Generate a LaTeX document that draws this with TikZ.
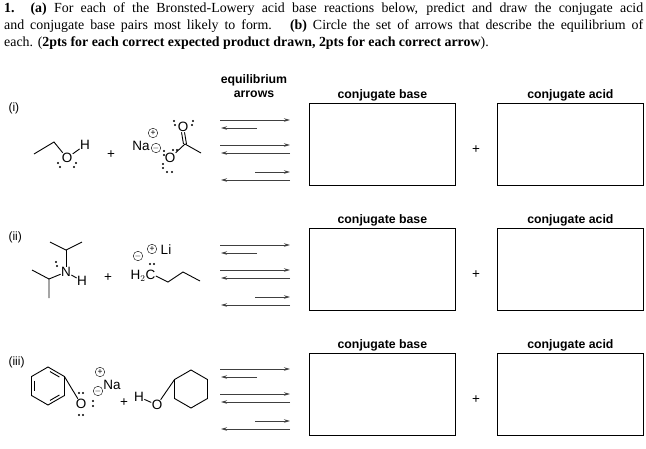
\documentclass[tikz,border=0pt]{standalone}
\usepackage{fontspec}
\setmainfont{Liberation Serif}
\newfontfamily\sans{Liberation Sans}
\usetikzlibrary{arrows.meta,calc}
\begin{document}
\begin{tikzpicture}[x=1pt,y=-1pt,
 box/.style={draw,line width=0.8pt},
 hd/.style={font=\sans\bfseries\fontsize{12.3}{13.5}\selectfont,align=center},
 atm/.style={font=\sans\fontsize{13.5}{14}\selectfont,inner sep=0.3pt},
 lbl/.style={font=\sans\fontsize{12}{12}\selectfont,anchor=west},
 eq/.style={line width=0.9pt,-{Stealth[length=6pt,width=3.5pt]},draw=black!75},
 bd/.style={line width=0.9pt},
 chg/.style={draw,circle,inner sep=0pt,minimum size=9.5pt,font=\sans\fontsize{8.5}{8.5}\selectfont},
 dt/.style={circle,fill,inner sep=0pt,minimum size=2.2pt}]
\useasboundingbox (0,0) rectangle (646,448);
\node[anchor=north west,text width=639pt,inner sep=0pt,align=justify,font=\fontsize{13.9}{17}\selectfont] (txt) at (4,3)
{\textbf{1. (a)} For each of the Bronsted-Lowery acid base reactions below, predict and draw the conjugate acid\linebreak and conjugate base pairs most likely to form. \ \textbf{(b)} Circle the set of arrows that describe the equilibrium of\linebreak each. (\textbf{2pts for each correct expected product drawn, 2pts for each correct arrow}).};
\node[hd] (eqh) at (254,86) {equilibrium\\arrows};
\foreach \y/\r in {103/i,228/ii,353/iii}{
 \node[box,minimum width=146pt,minimum height=82pt,anchor=north west] (cb\r) at (309,\y) {};
 \node[box,minimum width=146pt,minimum height=82pt,anchor=north west] (ca\r) at (497,\y) {};
 \node[hd,anchor=south,inner sep=2pt] (cbl\r) at (cb\r.north) {conjugate base};
 \node[hd,anchor=south,inner sep=2pt] (cal\r) at (ca\r.north) {conjugate acid};
 \node[atm] (pl\r) at (476,\y+47) {+};
}
\node[lbl] (li) at (5,108) {(i)};
\node[lbl] (lii) at (5,237) {(ii)};
\node[lbl] (liii) at (5,362) {(iii)};
% arrows
\foreach \y in {120,245,369}{
 \coordinate (a1\y) at (220,\y); \coordinate (b1\y) at (290,\y);
 \draw[eq] (a1\y) -- (b1\y);
 \coordinate (a2\y) at (257,\y+8); \coordinate (b2\y) at (221,\y+8);
 \draw[eq] (a2\y) -- (b2\y);
 \coordinate (a3\y) at (220,\y+25); \coordinate (b3\y) at (290,\y+25);
 \draw[eq] (a3\y) -- (b3\y);
 \coordinate (a4\y) at (290,\y+33); \coordinate (b4\y) at (221,\y+33);
 \draw[eq] (a4\y) -- (b4\y);
 \coordinate (a5\y) at (255,\y+52); \coordinate (b5\y) at (290,\y+52);
 \draw[eq] (a5\y) -- (b5\y);
 \coordinate (a6\y) at (290,\y+60); \coordinate (b6\y) at (221,\y+60);
 \draw[eq] (a6\y) -- (b6\y);
}
% (i) ethanol
\node[atm] (o1) at (67,158) {O};
\node[atm] (h1) at (85,145) {H};
\coordinate (c1) at (34,154); \coordinate (c2) at (54,142);
\draw[bd] (c1) -- (c2) -- (o1);
\draw[bd] (o1) -- (h1);
\node[dt] at (58,163) {}; \node[dt] at (60,167) {};
\node[dt] at (76,163) {}; \node[dt] at (74,167) {};
\node[atm] (p1) at (111,155) {+};
\node[atm] (na1) at (141,146) {Na};
\node[chg] (q1) at (153,133) {+};
\node[chg] (q2) at (156,148) {$-$};
\node[atm] (o2) at (170,158) {O};
\node[atm] (o3) at (183,127) {O};
\coordinate (cc) at (185,144); \coordinate (cm) at (201,153);
\draw[bd] (o2) -- (cc) -- (cm);
\draw[bd] ([xshift=-1.5]o3.south) -- ([xshift=-1.5]cc);
\draw[bd] ([xshift=1.5]o3.south) -- ([xshift=1.5]cc);
\node[dt] at (164,151) {}; \node[dt] at (164,155) {};
\node[dt] at (163,164) {}; \node[dt] at (163,168) {};
\node[dt] at (167,172) {}; \node[dt] at (172,172) {};
\node[dt] at (173,150) {}; \node[dt] at (177,150) {};
\node[dt] at (174,121) {}; \node[dt] at (175,125) {};
\node[dt] at (193,121) {}; \node[dt] at (192,125) {};
% (ii) LDA
\node[atm] (n1) at (66,272) {N};
\node[atm] (h2) at (82,281) {H};
\coordinate (u0) at (66,250); \coordinate (u1) at (50,242); \coordinate (u2) at (82,242);
\coordinate (l0) at (49,279); \coordinate (l1) at (32,270); \coordinate (l2) at (49,298);
\draw[bd] (n1) -- (u0); \draw[bd] (u1) -- (u0) -- (u2);
\draw[bd] (n1) -- (l0); \draw[bd] (l1) -- (l0) -- (l2);
\draw[bd] (n1) -- (h2);
\node[dt] at (56,262) {}; \node[dt] at (57,266) {};
\node[atm] (p2) at (108,278) {+};
\node[atm] (h2c) at (143,276) {H$_2$C};
\coordinate (k1) at (168,282); \coordinate (k2) at (183,272); \coordinate (k3) at (200,281);
\draw[bd] (h2c.east) -- (k1) -- (k2) -- (k3);
\node[dt] at (150,264) {}; \node[dt] at (154,264) {};
\node[chg] (q3) at (138,256) {$-$};
\node[chg] (q4) at (152,249) {+};
\node[atm] (li1) at (166,250) {Li};
% (iii) phenoxide
\coordinate (k) at (48,386);
\foreach \i in {0,...,5}{ \coordinate (r\i) at ($(k)+({90-60*\i}:19)$); }
\draw[bd] (r0)--(r1)--(r2)--(r3)--(r4)--(r5)--cycle;
\draw[bd] ($(r0)!0.15!(r1)!0.18!(k)$) -- ($(r1)!0.15!(r0)!0.18!(k)$);
\draw[bd] ($(r2)!0.15!(r3)!0.18!(k)$) -- ($(r3)!0.15!(r2)!0.18!(k)$);
\draw[bd] ($(r4)!0.15!(r5)!0.18!(k)$) -- ($(r5)!0.15!(r4)!0.18!(k)$);
\node[atm] (o4) at (81,404) {O};
\draw[bd] (r2) -- (o4);
\node[dt] at (79,393) {}; \node[dt] at (83,393) {};
\node[dt] at (79,415) {}; \node[dt] at (83,415) {};
\node[dt] at (93,401) {}; \node[dt] at (93,406) {};
\node[chg] (q5) at (100,372) {+};
\node[chg] (q6) at (98,391) {$-$};
\node[atm] (na2) at (112,385) {Na};
\node[atm] (p3) at (124,403) {+};
\node[atm] (h3) at (139,397) {H};
\node[atm] (o5) at (157,405) {O};
\draw[bd] (h3) -- (o5);
\coordinate (m) at (191,389);
\foreach \i in {0,...,5}{ \coordinate (s\i) at ($(m)+({90-60*\i}:19)$); }
\draw[bd] (s0)--(s1)--(s2)--(s3)--(s4)--(s5)--cycle;
\draw[bd] (o5) -- (s4);
\end{tikzpicture}
\end{document}
